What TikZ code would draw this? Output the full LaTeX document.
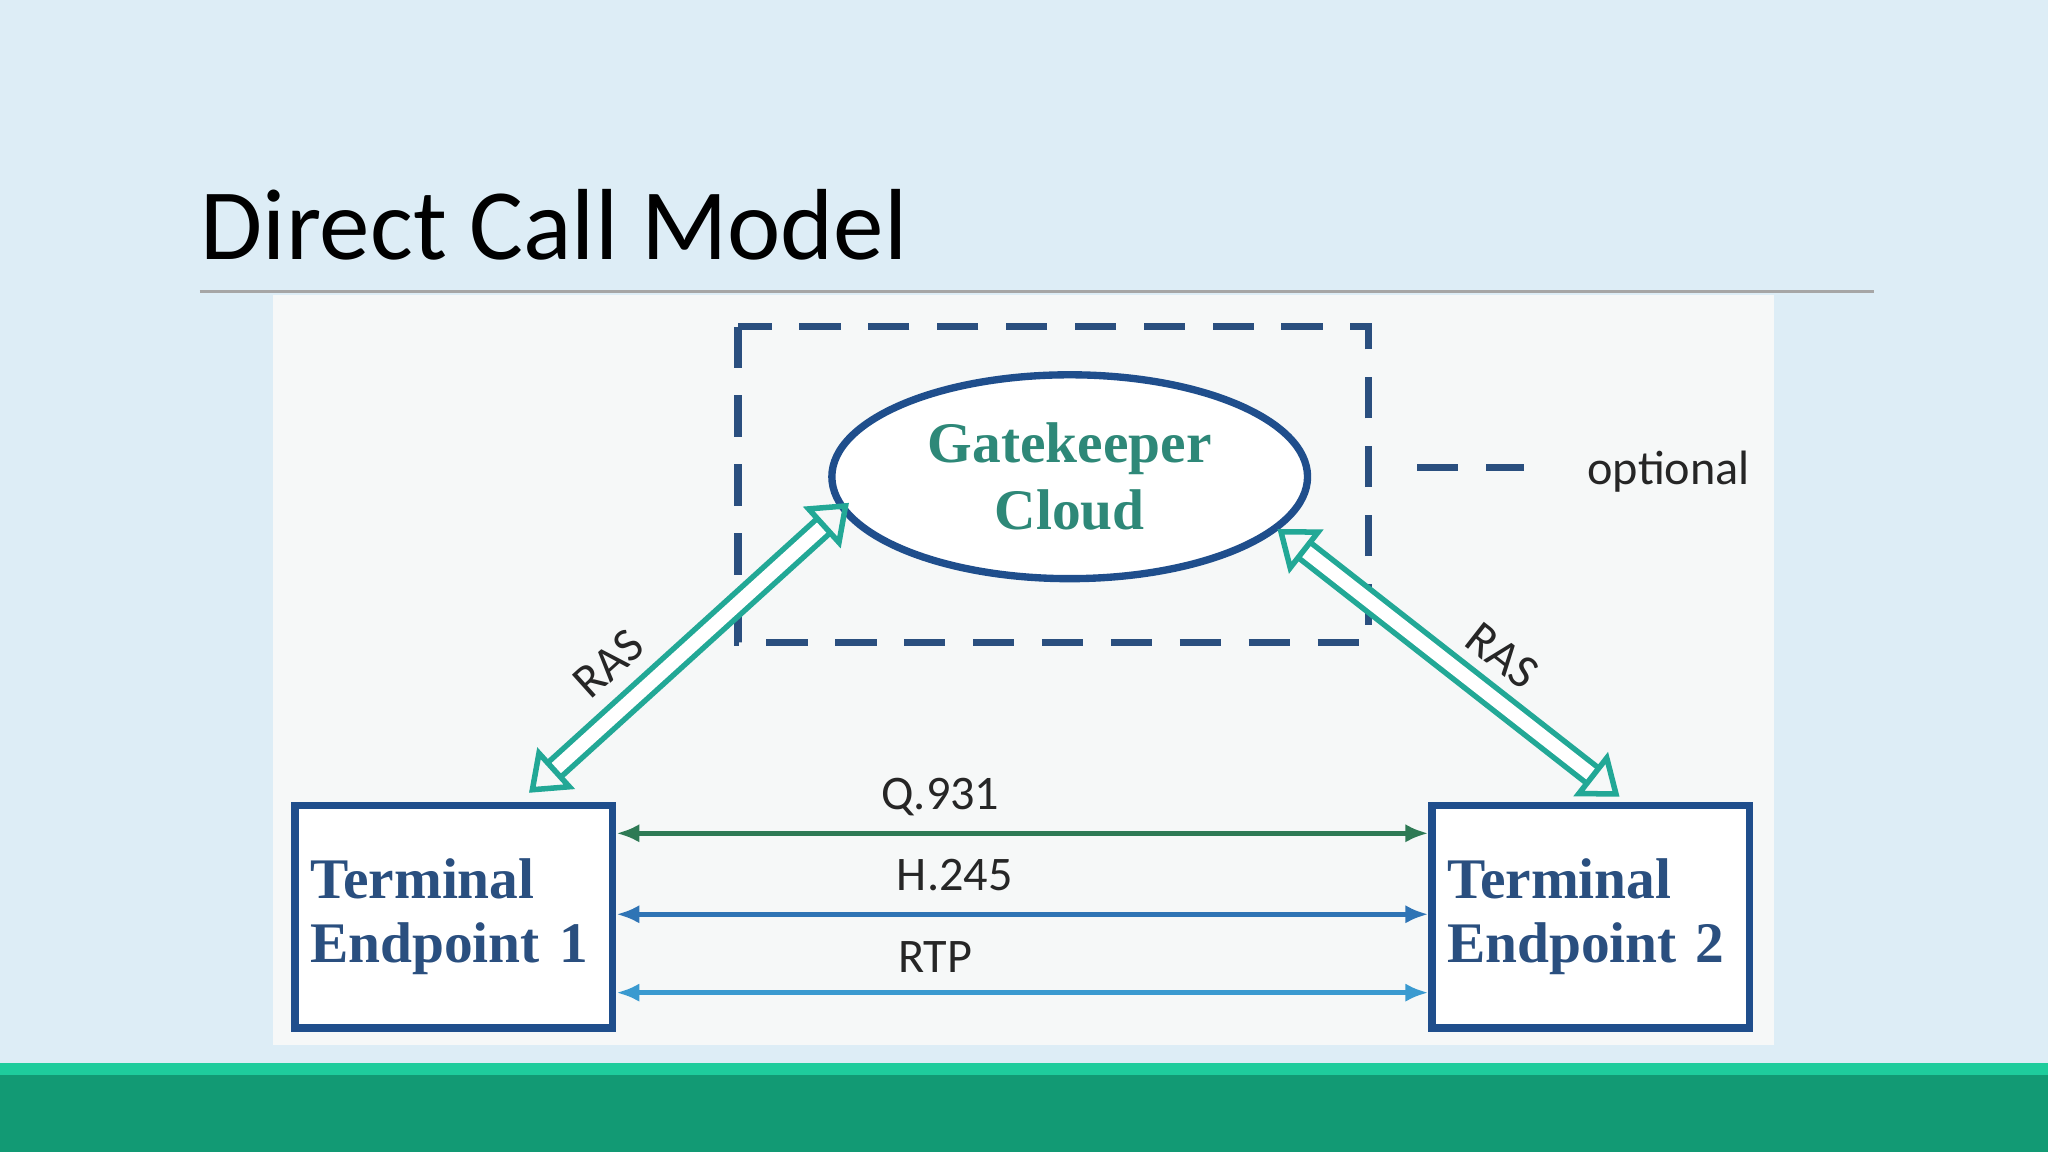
\documentclass[tikz,border=0pt]{standalone}
\usepackage{fontspec}
\setmainfont{Carlito}
\newfontfamily\serifb{Liberation Serif}
\usetikzlibrary{arrows.meta,shapes.geometric}
\definecolor{bgblue}{HTML}{DDEDF6}
\definecolor{panel}{HTML}{F6F8F8}
\definecolor{navy}{HTML}{1F4E8C}
\definecolor{dashblue}{HTML}{2A4F7F}
\definecolor{tealtxt}{HTML}{2E8878}
\definecolor{rasteal}{HTML}{22A896}
\definecolor{qgreen}{HTML}{2E7A55}
\definecolor{hblue}{HTML}{2F74B5}
\definecolor{rblue}{HTML}{3A9AD0}
\definecolor{band1}{HTML}{1ECC9C}
\definecolor{band2}{HTML}{129A74}
\tikzset{
  termbox/.style={draw=navy,line width=1.6pt,fill=white,minimum width=2.43cm,minimum height=1.7cm,align=left,font=\serifb\bfseries\fontsize{12.5}{14}\selectfont,text=dashblue,inner sep=0pt},
  hlink/.style={{Latex[length=5pt,width=4pt]}-{Latex[length=5pt,width=4pt]},line width=1.2pt},
  raslink/.style={draw=rasteal,double=white,double distance=3pt,line width=1.2pt,{Triangle[open,length=8pt,width=12pt]}-{Triangle[open,length=8pt,width=12pt]}},
  lbl/.style={font=\fontsize{10.5}{12}\selectfont,text=black!85}
}
\begin{document}
\begin{tikzpicture}[x=0.01cm,y=-0.01cm]
\useasboundingbox (0,0) rectangle (1568,882);
\fill[bgblue] (0,0) rectangle (1568,882);
\fill[band1] (0,814) rectangle (1568,823);
\fill[band2] (0,823) rectangle (1568,882);
\node[anchor=west,font=\fontsize{22}{26}\selectfont,inner sep=0pt] (title) at (153,172) {Direct Call Model};
\draw[gray!70,line width=0.6pt] (153,223) -- (1435,223);
\fill[panel] (209,226) rectangle (1358,800);
\draw[dashblue,line width=1.6pt,dash pattern=on 9pt off 6pt] (565,250) rectangle (1048,492);
\node[draw=navy,line width=1.6pt,ellipse,minimum width=3.64cm,minimum height=1.56cm,fill=white,align=center,font=\serifb\bfseries\fontsize{12.5}{14.5}\selectfont,text=tealtxt] (gk) at (819,365) {Gatekeeper\\Cloud};
\coordinate (o1) at (1085,358); \coordinate (o2) at (1167,358);
\draw[dashblue,line width=1.6pt,dash pattern=on 9pt off 6pt] (o1) -- (o2);
\node[lbl,anchor=west] (opt) at (1203,361) {optional};
\node[termbox,text width=2.2cm] (t1) at (347.5,702) {Terminal\\Endpoint 1};
\node[termbox,text width=2.2cm] (t2) at (1218,702) {Terminal\\Endpoint 2};
\draw[hlink,qgreen] (t1.east |- 0,638) -- (t2.west |- 0,638);
\draw[hlink,hblue] (t1.east |- 0,700) -- (t2.west |- 0,700);
\draw[hlink,rblue] (t1.east |- 0,760) -- (t2.west |- 0,760);
\node[lbl] (q) at (720,610) {Q.931};
\node[lbl] (h) at (731,670) {H.245};
\node[lbl] (r) at (716,733) {RTP};
\coordinate (a1) at (405,607); \coordinate (a2) at (650,385);
\coordinate (b1) at (978,405); \coordinate (b2) at (1240,610);
\draw[raslink] (a1) -- (a2);
\draw[raslink] (b1) -- (b2);
\node[lbl,rotate=42] (ras1) at (466,508) {RAS};
\node[lbl,rotate=-38] (ras2) at (1150,502) {RAS};
\end{tikzpicture}
\end{document}
